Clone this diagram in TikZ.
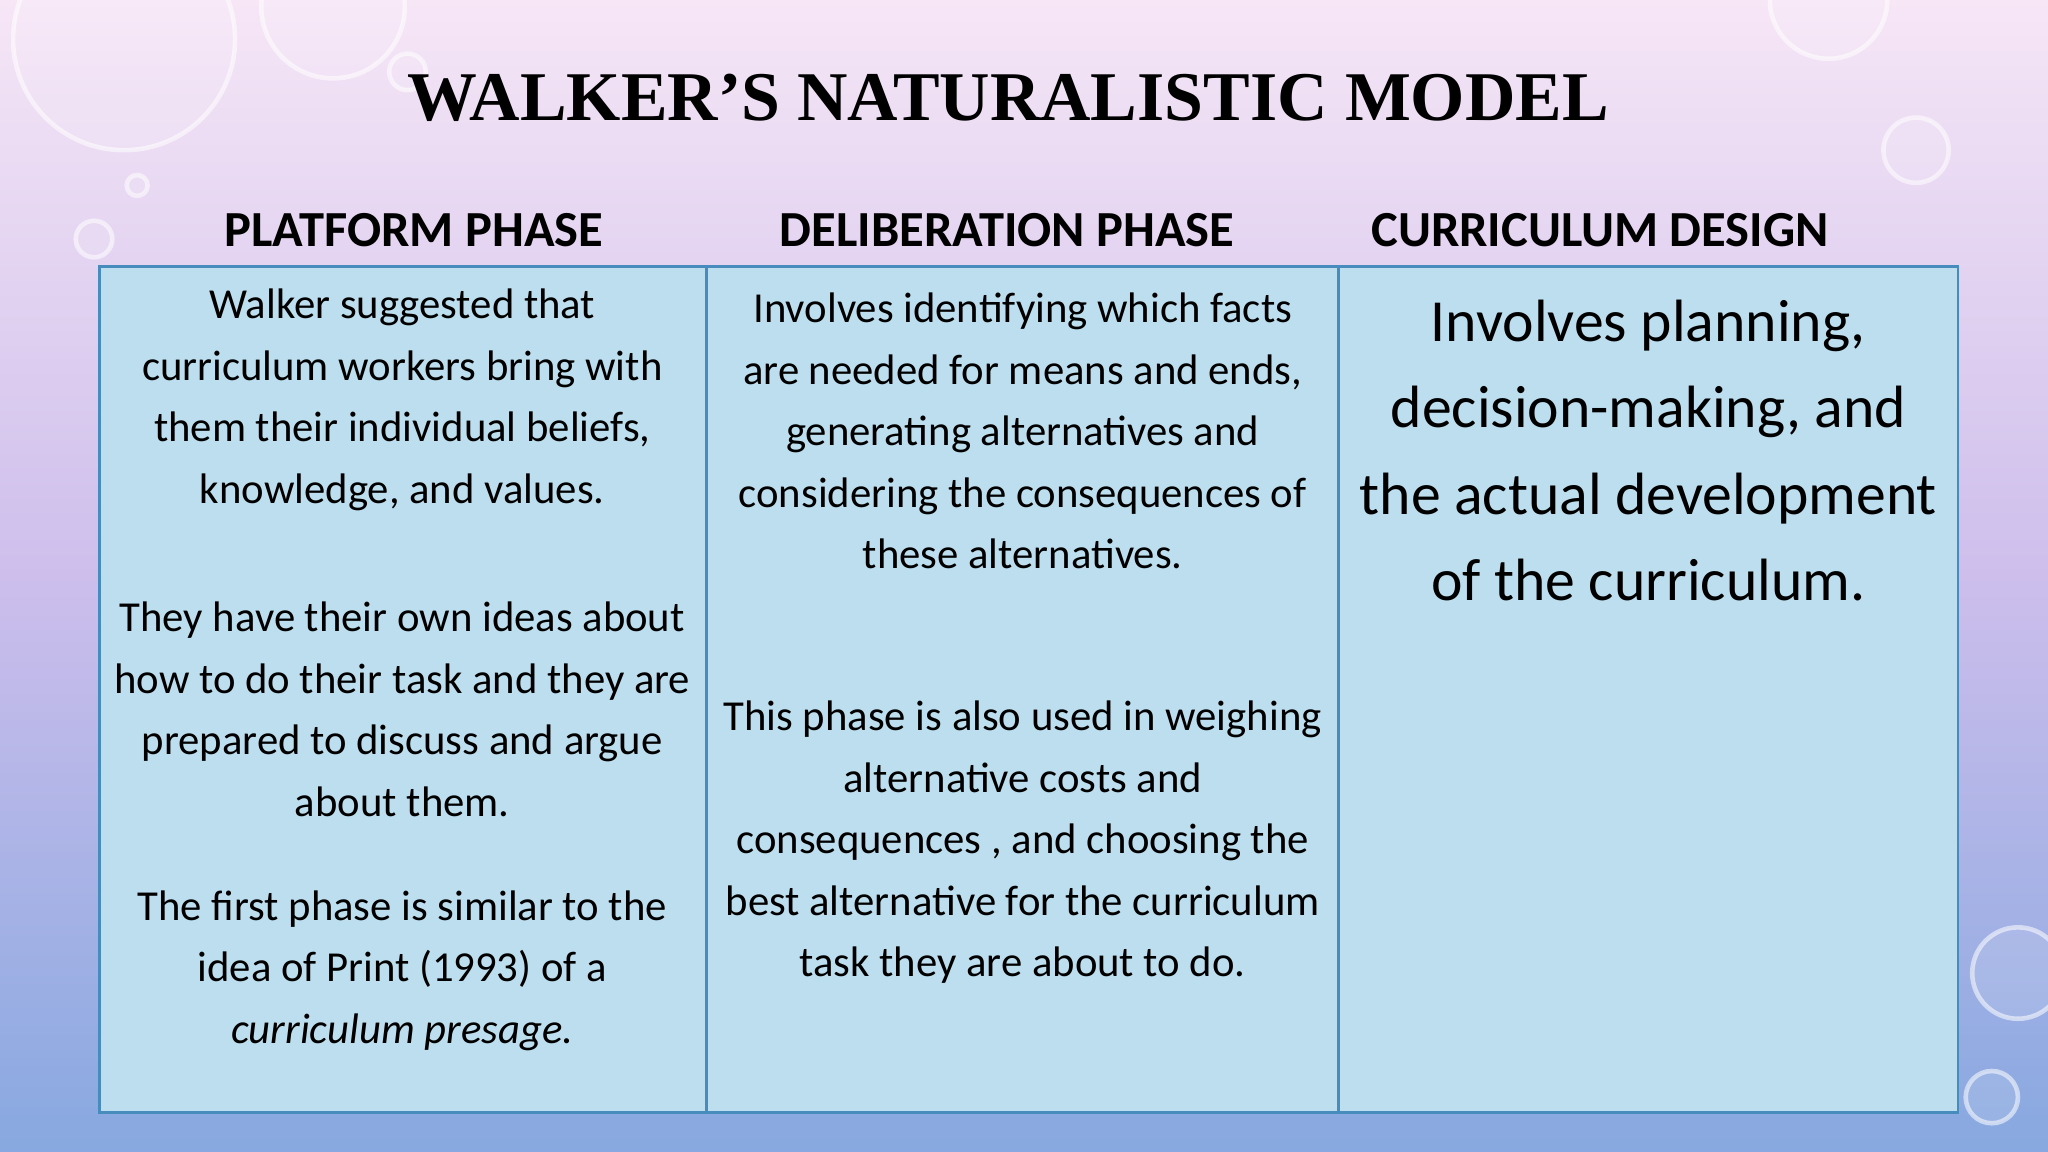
\documentclass[tikz,border=0pt]{standalone}
\usepackage{fontspec}
\setmainfont{Carlito}
\newfontfamily\titlefont{Liberation Serif}
\begin{document}
\begin{tikzpicture}[x=0.01cm,y=-0.01cm,
  cell/.style={fill=cellblue,draw=cellline,line width=0.6pt},
  body/.style={align=center,font=\fontsize{9.3}{13.4}\selectfont,inner sep=0pt},
  big/.style={align=center,font=\fontsize{13}{18.8}\selectfont,inner sep=0pt},
  head/.style={font=\fontsize{11}{12}\selectfont\bfseries,inner sep=0pt},
  bubble/.style={draw=white,line width=1pt,fill=white,fill opacity=0.12,draw opacity=0.55}]
\definecolor{cellblue}{RGB}{189,222,238}
\definecolor{cellline}{RGB}{72,140,190}
\definecolor{bgtop}{RGB}{246,230,246}
\definecolor{bgmid}{RGB}{205,190,236}
\definecolor{bgbot}{RGB}{135,168,224}
\useasboundingbox (0,0) rectangle (1568,882);
\shade[top color=bgtop,bottom color=bgmid] (0,0) rectangle (1568,441);
\shade[top color=bgmid,bottom color=bgbot] (0,441) rectangle (1568,882);
% bubbles
\draw[bubble] (95,30) circle (85);
\draw[bubble] (255,5) circle (55);
\draw[bubble] (105,142) circle (8);
\draw[bubble] (72,183) circle (14);
\draw[bubble] (312,55) circle (14);
\draw[bubble] (1400,0) circle (45);
\draw[bubble] (1467,115) circle (25);
\draw[bubble] (1545,745) circle (35);
\draw[bubble] (1525,840) circle (20);
% title
\node[font=\titlefont\fontsize{15.2}{18}\selectfont\bfseries] (title) at (772,75) {WALKER’S NATURALISTIC MODEL};
\node[head] (h1) at (317,176) {PLATFORM PHASE};
\node[head] (h2) at (771,176) {DELIBERATION PHASE};
\node[head] (h3) at (1225,176) {CURRICULUM DESIGN};
% table
\draw[cell] (76,204) rectangle (541,852);
\draw[cell] (541,204) rectangle (1025,852);
\draw[cell] (1025,204) rectangle (1499,852);
\node[body] (a1) at (308,306) {Walker suggested that\\curriculum workers bring with\\them their individual beliefs,\\knowledge, and values.};
\node[body] (a2) at (308,543) {They have their own ideas about\\how to do their task and they are\\prepared to discuss and argue\\about them.};
\node[body] (a3) at (308,743) {The first phase is similar to the\\idea of Print (1993) of a\\\textit{curriculum presage.}};
\node[body] (b1) at (783,330) {Involves identifying which facts\\are needed for means and ends,\\generating alternatives and\\considering the consequences of\\these alternatives.};
\node[body] (b2) at (783,645) {This phase is also used in weighing\\alternative costs and\\consequences , and choosing the\\best alternative for the curriculum\\task they are about to do.};
\node[big] (c1) at (1262,345) {Involves planning,\\decision-making, and\\the actual development\\of the curriculum.};
\end{tikzpicture}
\end{document}
